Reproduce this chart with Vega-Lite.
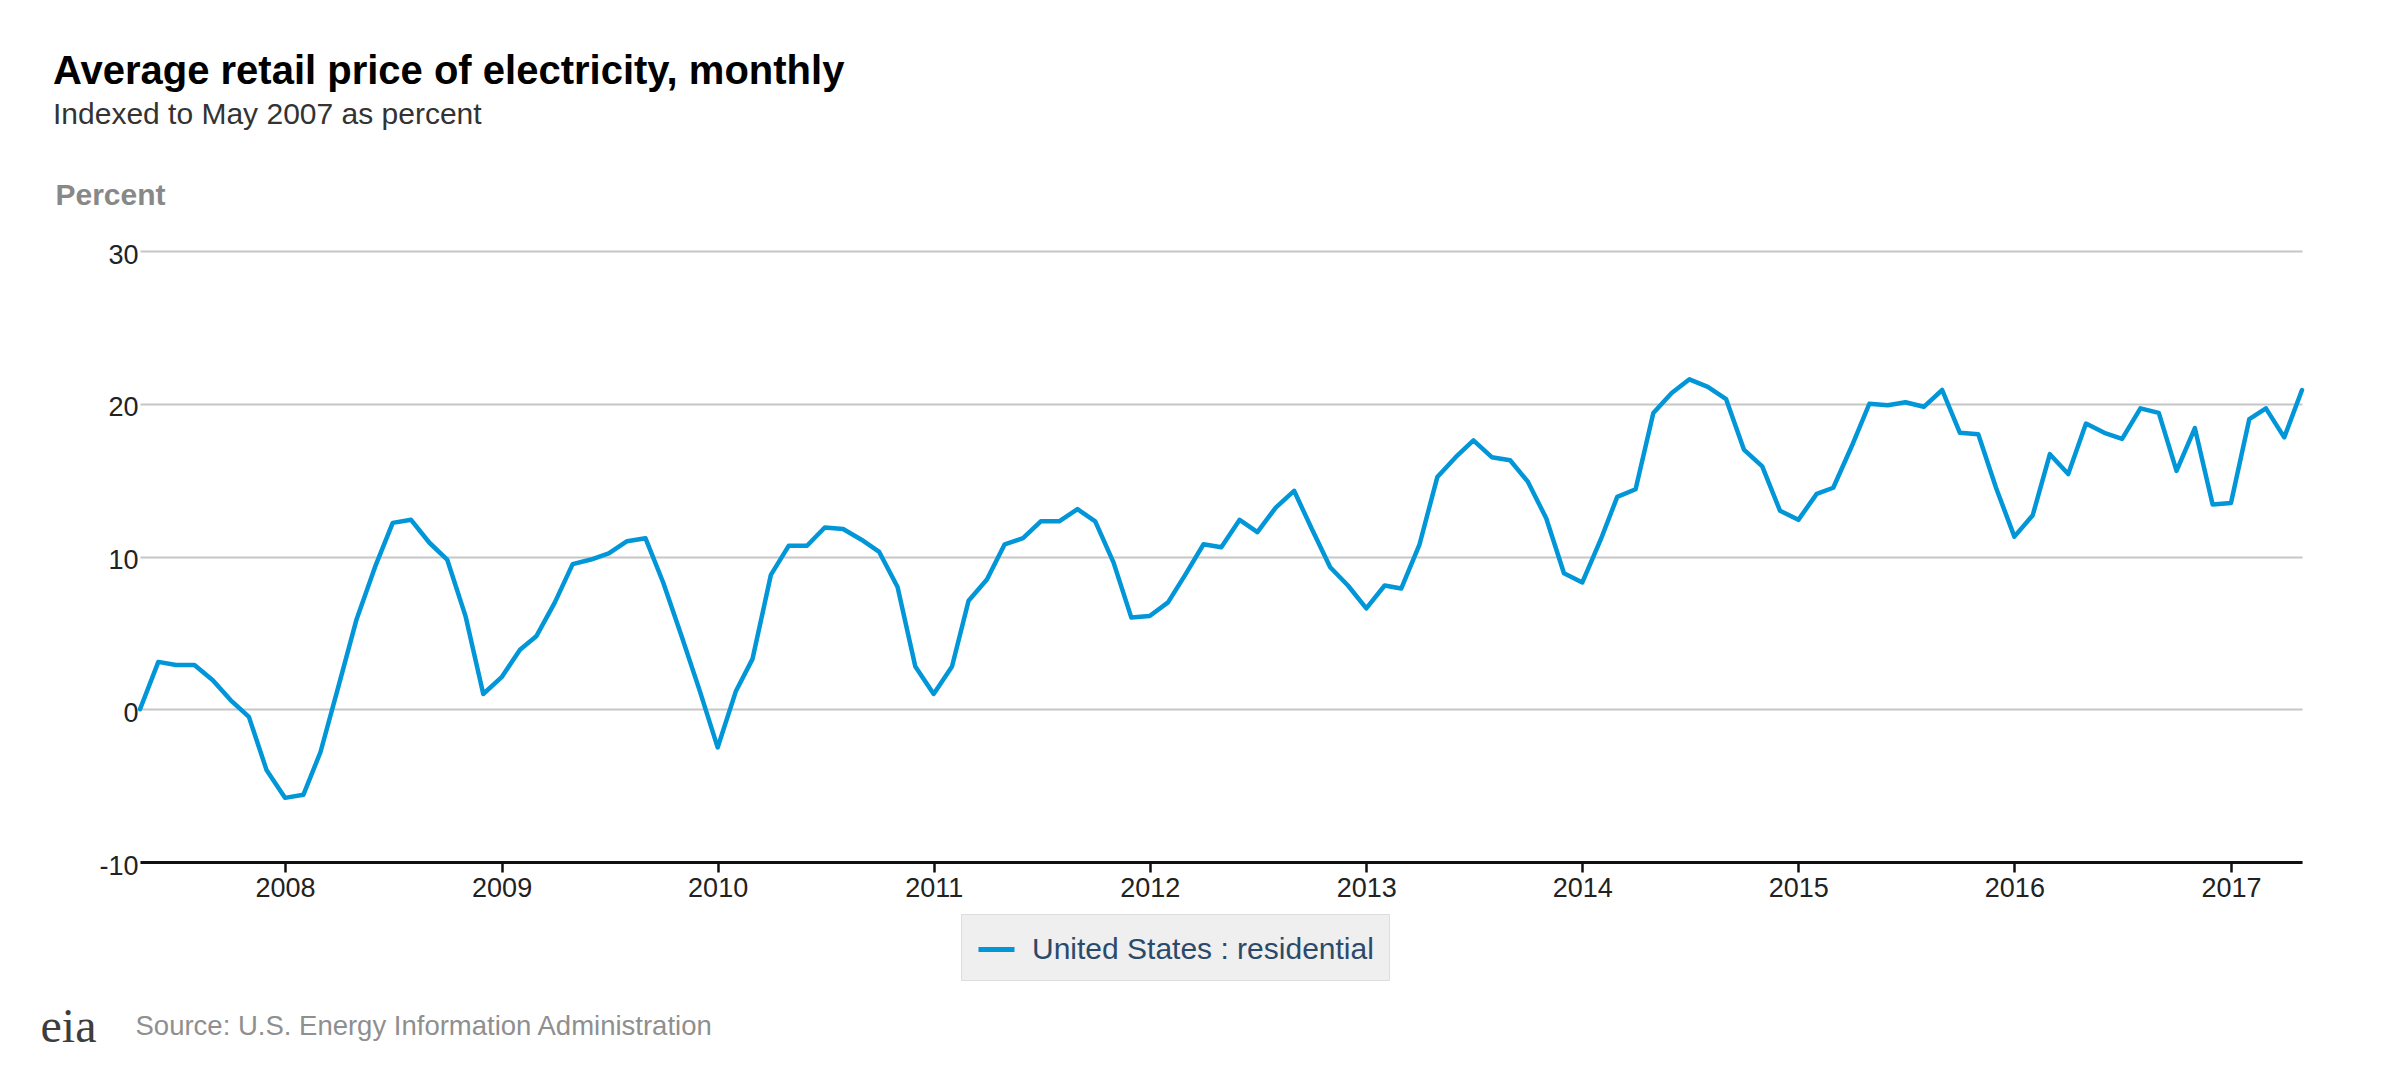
{
  "$schema": "https://vega.github.io/schema/vega-lite/v6.json",
  "width": 2162,
  "height": 611,
  "autosize": {"type": "none"},
  "padding": {"left": 140, "top": 251, "right": 82, "bottom": 216},
  "background": "white",
  "config": {"view": {"stroke": null}, "font": "Liberation Sans"},
  "title": {
    "text": "Average retail price of electricity, monthly",
    "subtitle": "Indexed to May 2007 as percent",
    "anchor": "start",
    "frame": "group",
    "dx": -87,
    "offset": 50,
    "font": "Liberation Sans",
    "fontSize": 40,
    "fontWeight": "bold",
    "color": "#000000",
    "subtitleFont": "Liberation Sans",
    "subtitleFontSize": 30,
    "subtitleColor": "#333333",
    "subtitlePadding": 8
  },
  "data": {
    "values": [
      {"month": "2007-05-01", "pct": 0.0},
      {"month": "2007-06-01", "pct": 3.1},
      {"month": "2007-07-01", "pct": 2.9},
      {"month": "2007-08-01", "pct": 2.9},
      {"month": "2007-09-01", "pct": 1.9},
      {"month": "2007-10-01", "pct": 0.6},
      {"month": "2007-11-01", "pct": -0.5},
      {"month": "2007-12-01", "pct": -4.0},
      {"month": "2008-01-01", "pct": -5.8},
      {"month": "2008-02-01", "pct": -5.6},
      {"month": "2008-03-01", "pct": -2.8},
      {"month": "2008-04-01", "pct": 1.6},
      {"month": "2008-05-01", "pct": 5.9},
      {"month": "2008-06-01", "pct": 9.3},
      {"month": "2008-07-01", "pct": 12.2},
      {"month": "2008-08-01", "pct": 12.4},
      {"month": "2008-09-01", "pct": 10.9},
      {"month": "2008-10-01", "pct": 9.8},
      {"month": "2008-11-01", "pct": 6.1},
      {"month": "2008-12-01", "pct": 1.0},
      {"month": "2009-01-01", "pct": 2.1},
      {"month": "2009-02-01", "pct": 3.9},
      {"month": "2009-03-01", "pct": 4.8},
      {"month": "2009-04-01", "pct": 7.0},
      {"month": "2009-05-01", "pct": 9.5},
      {"month": "2009-06-01", "pct": 9.8},
      {"month": "2009-07-01", "pct": 10.2},
      {"month": "2009-08-01", "pct": 11.0},
      {"month": "2009-09-01", "pct": 11.2},
      {"month": "2009-10-01", "pct": 8.3},
      {"month": "2009-11-01", "pct": 4.8},
      {"month": "2009-12-01", "pct": 1.3},
      {"month": "2010-01-01", "pct": -2.5},
      {"month": "2010-02-01", "pct": 1.2},
      {"month": "2010-03-01", "pct": 3.3},
      {"month": "2010-04-01", "pct": 8.8},
      {"month": "2010-05-01", "pct": 10.7},
      {"month": "2010-06-01", "pct": 10.7},
      {"month": "2010-07-01", "pct": 11.9},
      {"month": "2010-08-01", "pct": 11.8},
      {"month": "2010-09-01", "pct": 11.1},
      {"month": "2010-10-01", "pct": 10.3},
      {"month": "2010-11-01", "pct": 8.0},
      {"month": "2010-12-01", "pct": 2.8},
      {"month": "2011-01-01", "pct": 1.0},
      {"month": "2011-02-01", "pct": 2.8},
      {"month": "2011-03-01", "pct": 7.1},
      {"month": "2011-04-01", "pct": 8.5},
      {"month": "2011-05-01", "pct": 10.8},
      {"month": "2011-06-01", "pct": 11.2},
      {"month": "2011-07-01", "pct": 12.3},
      {"month": "2011-08-01", "pct": 12.3},
      {"month": "2011-09-01", "pct": 13.1},
      {"month": "2011-10-01", "pct": 12.3},
      {"month": "2011-11-01", "pct": 9.6},
      {"month": "2011-12-01", "pct": 6.0},
      {"month": "2012-01-01", "pct": 6.1},
      {"month": "2012-02-01", "pct": 7.0},
      {"month": "2012-03-01", "pct": 8.8},
      {"month": "2012-04-01", "pct": 10.8},
      {"month": "2012-05-01", "pct": 10.6},
      {"month": "2012-06-01", "pct": 12.4},
      {"month": "2012-07-01", "pct": 11.6},
      {"month": "2012-08-01", "pct": 13.2},
      {"month": "2012-09-01", "pct": 14.3},
      {"month": "2012-10-01", "pct": 11.8},
      {"month": "2012-11-01", "pct": 9.3},
      {"month": "2012-12-01", "pct": 8.1},
      {"month": "2013-01-01", "pct": 6.6},
      {"month": "2013-02-01", "pct": 8.1},
      {"month": "2013-03-01", "pct": 7.9},
      {"month": "2013-04-01", "pct": 10.8},
      {"month": "2013-05-01", "pct": 15.2},
      {"month": "2013-06-01", "pct": 16.5},
      {"month": "2013-07-01", "pct": 17.6},
      {"month": "2013-08-01", "pct": 16.5},
      {"month": "2013-09-01", "pct": 16.3},
      {"month": "2013-10-01", "pct": 14.9},
      {"month": "2013-11-01", "pct": 12.5},
      {"month": "2013-12-01", "pct": 8.9},
      {"month": "2014-01-01", "pct": 8.3},
      {"month": "2014-02-01", "pct": 11.1},
      {"month": "2014-03-01", "pct": 13.9},
      {"month": "2014-04-01", "pct": 14.4},
      {"month": "2014-05-01", "pct": 19.4},
      {"month": "2014-06-01", "pct": 20.7},
      {"month": "2014-07-01", "pct": 21.6},
      {"month": "2014-08-01", "pct": 21.1},
      {"month": "2014-09-01", "pct": 20.3},
      {"month": "2014-10-01", "pct": 17.0},
      {"month": "2014-11-01", "pct": 15.9},
      {"month": "2014-12-01", "pct": 13.0},
      {"month": "2015-01-01", "pct": 12.4},
      {"month": "2015-02-01", "pct": 14.1},
      {"month": "2015-03-01", "pct": 14.5},
      {"month": "2015-04-01", "pct": 17.2},
      {"month": "2015-05-01", "pct": 20.0},
      {"month": "2015-06-01", "pct": 19.9},
      {"month": "2015-07-01", "pct": 20.1},
      {"month": "2015-08-01", "pct": 19.8},
      {"month": "2015-09-01", "pct": 20.9},
      {"month": "2015-10-01", "pct": 18.1},
      {"month": "2015-11-01", "pct": 18.0},
      {"month": "2015-12-01", "pct": 14.5},
      {"month": "2016-01-01", "pct": 11.3},
      {"month": "2016-02-01", "pct": 12.7},
      {"month": "2016-03-01", "pct": 16.7},
      {"month": "2016-04-01", "pct": 15.4},
      {"month": "2016-05-01", "pct": 18.7},
      {"month": "2016-06-01", "pct": 18.1},
      {"month": "2016-07-01", "pct": 17.7},
      {"month": "2016-08-01", "pct": 19.7},
      {"month": "2016-09-01", "pct": 19.4},
      {"month": "2016-10-01", "pct": 15.6},
      {"month": "2016-11-01", "pct": 18.4},
      {"month": "2016-12-01", "pct": 13.4},
      {"month": "2017-01-01", "pct": 13.5},
      {"month": "2017-02-01", "pct": 19.0},
      {"month": "2017-03-01", "pct": 19.7},
      {"month": "2017-04-01", "pct": 17.8},
      {"month": "2017-05-01", "pct": 20.9}
    ]
  },
  "layer": [
    {
      "mark": {"type": "line", "strokeWidth": 4.5, "strokeJoin": "round", "strokeCap": "round"},
      "encoding": {
        "x": {
          "field": "month",
          "type": "temporal",
          "scale": {
            "type": "utc",
            "domain": [
              {"year": 2007, "month": 5, "date": 1, "utc": true},
              {"year": 2017, "month": 5, "date": 1, "utc": true}
            ]
          },
          "axis": {
            "title": "Source: U.S. Energy Information Administration",
            "titleX": -5,
            "titleY": 172,
            "titleAlign": "left",
            "titleBaseline": "alphabetic",
            "titleFontSize": 27.5,
            "titleFontWeight": "normal",
            "titleColor": "#8f8f8f",
            "format": "%Y",
            "tickCount": {"interval": "year", "step": 1},
            "grid": false,
            "domainColor": "#111111",
            "domainWidth": 3,
            "tickColor": "#111111",
            "tickWidth": 2.5,
            "tickSize": 10,
            "labelFontSize": 27,
            "labelColor": "#222222",
            "labelPadding": 3,
            "labelFlush": false,
            "labelOverlap": false
          }
        },
        "y": {
          "field": "pct",
          "type": "quantitative",
          "scale": {"domain": [-10, 30], "nice": false},
          "axis": {
            "title": "Percent",
            "titleAngle": 0,
            "titleAlign": "left",
            "titleBaseline": "alphabetic",
            "titleX": -85,
            "titleY": -47,
            "titleFontSize": 30,
            "titleFontWeight": "bold",
            "titleColor": "#888888",
            "values": [-10, 0, 10, 20, 30],
            "labelExpr": "replace(datum.label, '\u2212', '-')",
            "domain": false,
            "ticks": false,
            "labelFontSize": 27,
            "labelColor": "#222222",
            "labelPadding": 2,
            "labelOffset": 4,
            "gridColor": "#c6c6c6",
            "gridWidth": 2
          }
        },
        "color": {
          "datum": "United States : residential",
          "type": "nominal",
          "scale": {"range": ["#0096d7"]},
          "legend": {
            "title": null,
            "orient": "none",
            "legendX": 821,
            "legendY": 663,
            "direction": "horizontal",
            "symbolType": "stroke",
            "symbolSize": 1296,
            "symbolStrokeWidth": 5,
            "labelFontSize": 30,
            "labelFont": "Liberation Sans",
            "labelColor": "#2b4a6b",
            "labelLimit": 600,
            "labelOffset": 15,
            "padding": 15,
            "fillColor": "#efefef",
            "strokeColor": "#dddddd",
            "cornerRadius": 0
          }
        }
      }
    },
    {
      "mark": {"type": "point", "opacity": 0},
      "encoding": {
        "x": {
          "field": "month",
          "type": "temporal",
          "axis": {
            "orient": "top",
            "labels": false,
            "ticks": false,
            "domain": false,
            "grid": false,
            "title": "eia",
            "titleX": -100,
            "titleY": 790,
            "titleAlign": "left",
            "titleBaseline": "alphabetic",
            "titleFont": "Liberation Serif",
            "titleFontSize": 48,
            "titleFontWeight": "normal",
            "titleColor": "#3d3d3d"
          }
        }
      }
    }
  ],
  "resolve": {"axis": {"x": "independent"}}
}
